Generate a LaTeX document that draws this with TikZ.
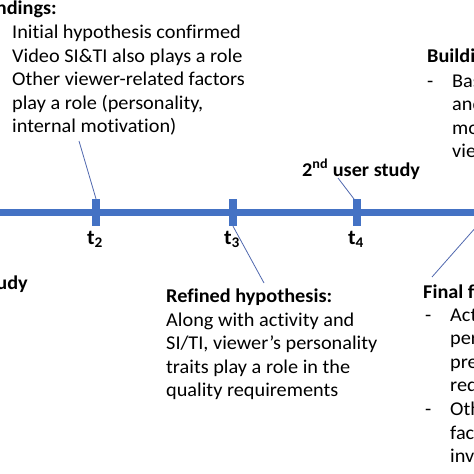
\documentclass[tikz,border=0pt]{standalone}
\usepackage{fontspec}
\setmainfont{Carlito}[FakeStretch=1.04,RawFeature=-liga]
\definecolor{axisblue}{HTML}{4472C4}
\definecolor{connblue}{HTML}{5068AE}
\newcommand\tlbul{\makebox[27pt][l]{\hspace{2pt}-}}
\newcommand\tlind{\hspace*{27pt}}
\begin{document}
\begin{tikzpicture}[x=1pt,y=-1pt,
  tickbox/.style={rectangle,fill=axisblue,minimum width=8pt,minimum height=27pt,inner sep=0pt},
  axisline/.style={draw=axisblue,line width=7pt},
  conn/.style={draw=connblue,line width=0.8pt},
  txt/.style={font=\fontsize{19.5}{23.6}\selectfont,anchor=base west,inner sep=0pt},
  ttl/.style={font=\fontsize{19.5}{23.6}\selectfont\bfseries,anchor=base west,inner sep=0pt},
  tlab/.style={font=\fontsize{21}{24}\selectfont\bfseries,anchor=base,inner sep=0pt}]
\useasboundingbox (0,0) rectangle (474,474);
\clip (0,0) rectangle (474,474);
% axis
\coordinate (axL) at (-20,212.5);
\coordinate (axR) at (500,212.5);
\draw[axisline] (axL) -- (axR);
\node[tickbox] (t2) at (96,212.5) {};
\node[tickbox] (t3) at (233,212.5) {};
\node[tickbox] (t4) at (357,212.5) {};
\node[tickbox] (t5) at (481,212.5) {};
\node[tlab] (l2) at (95,244) {t\textsubscript{2}};
\node[tlab] (l3) at (232,244) {t\textsubscript{3}};
\node[tlab] (l4) at (356,244) {t\textsubscript{4}};
% findings (top left)
\node[ttl,anchor=base east] (fT) at (57,14) {Findings:};
\node[txt] (fB) at (12,38.5) {\begin{tabular}[t]{@{}l@{}}Initial hypothesis confirmed\\
Video SI\&TI also plays a role\\
Other viewer-related factors\\
play a role (personality,\\
internal motivation)\end{tabular}};
\coordinate (fE) at (79,141);
\draw[conn] (fE) -- (t2.north);
% 1st user study (left)
\node[ttl,anchor=base east] (u1) at (28,289) {1\textsuperscript{st} user study};
% refined hypothesis
\node[ttl] (rT) at (166,302) {Refined hypothesis:};
\node[txt] (rB) at (166,326) {\begin{tabular}[t]{@{}l@{}}Along with activity and\\
SI/TI, viewer’s personality\\
traits play a role in the\\
quality requirements\end{tabular}};
\coordinate (rE) at (264,283);
\draw[conn] (t3.south) -- (rE);
% 2nd user study
\node[ttl] (u2) at (302,176) {2\textsuperscript{nd} user study};
\coordinate (u2E) at (338,178);
\draw[conn] (u2E) -- (354,199);
% building
\node[ttl] (bT) at (427,62) {Building the model:};
\node[txt] (bB) at (425,87) {\begin{tabular}[t]{@{}l@{}}\tlbul Based on the\\
\tlind and the\\
\tlind model the\\
\tlind viewer the\end{tabular}};
% final findings
\node[ttl] (ffT) at (423,298) {Final findings:};
\node[txt] (ffB) at (423,321) {\begin{tabular}[t]{@{}l@{}}\tlbul Activity and\\
\tlind personality\\
\tlind preferences\\
\tlind required\\
\tlbul Other the\\
\tlind factors\\
\tlind involved\end{tabular}};
\coordinate (ffE) at (432,277);
\draw[conn] (t5.south west) -- (ffE);
\end{tikzpicture}
\end{document}
